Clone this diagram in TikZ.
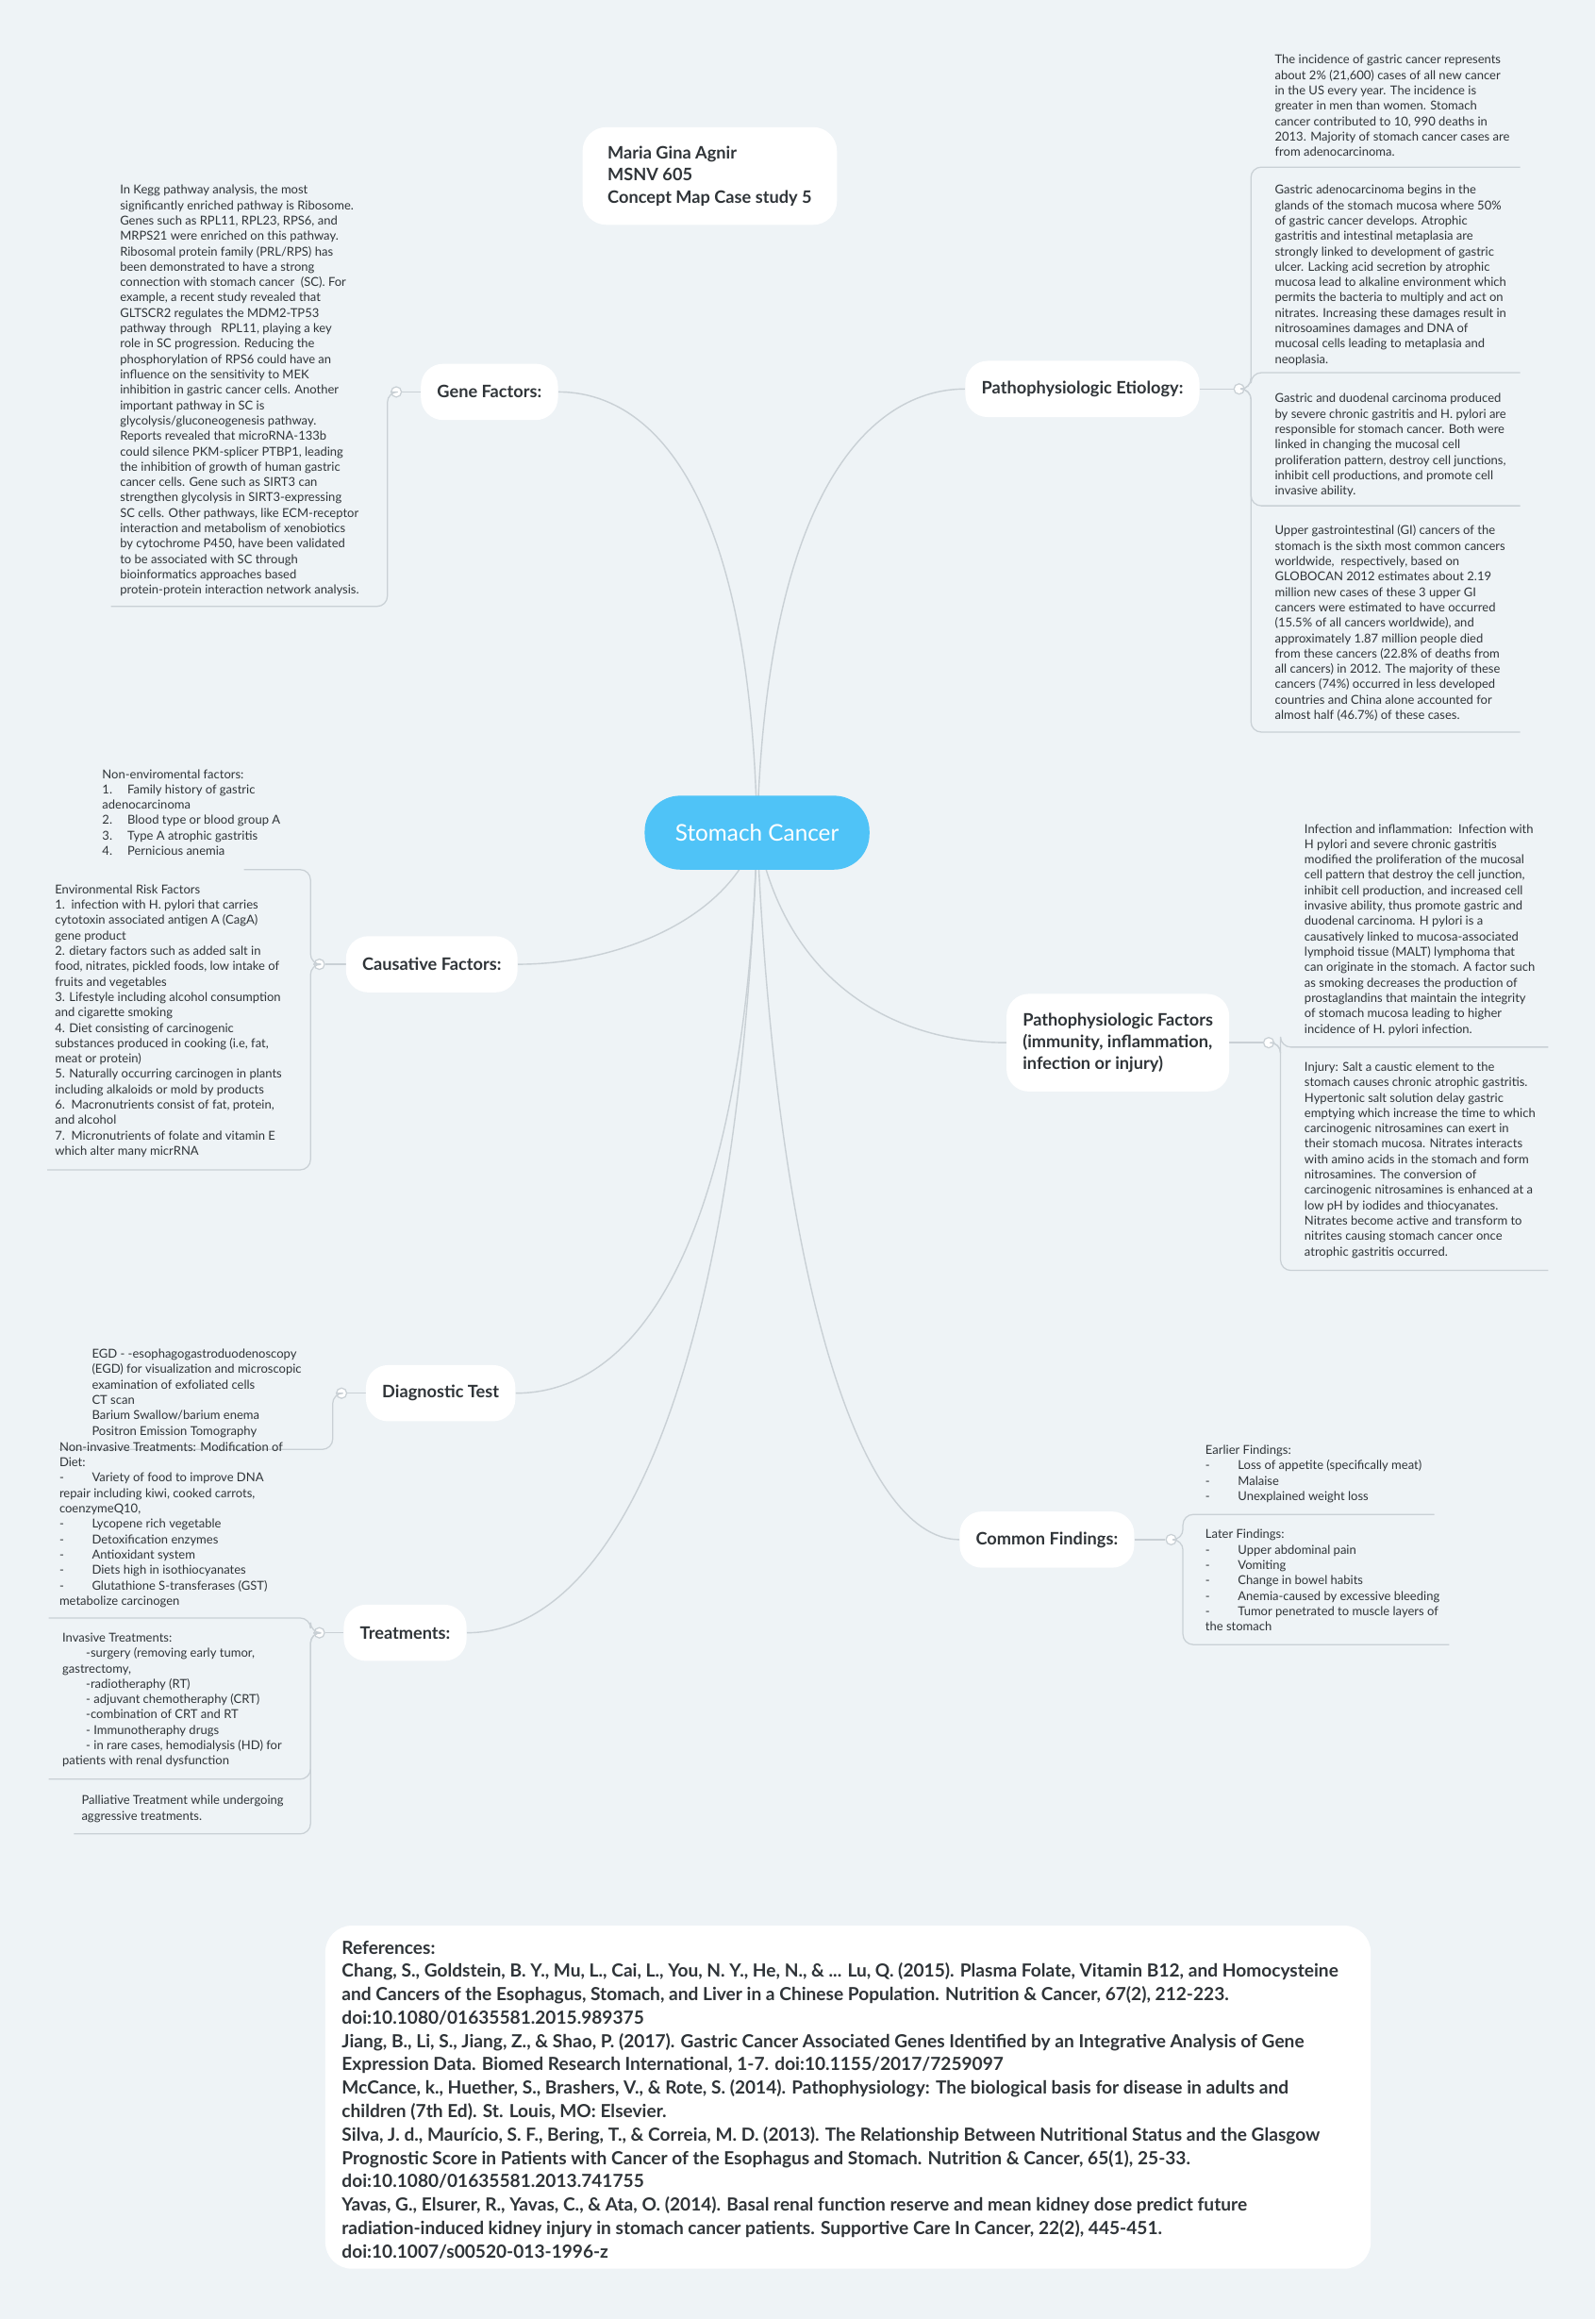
\documentclass[tikz,border=0pt]{standalone}
\usepackage{fontspec}
\setmainfont{Lato}
\usetikzlibrary{backgrounds}
\definecolor{bgc}{HTML}{EEF3F6}
\definecolor{linec}{HTML}{C9D0D5}
\definecolor{skyc}{HTML}{4FC3F7}
\definecolor{txtc}{HTML}{2F3438}
\newcommand\itm[1]{\makebox[22pt][l]{-}#1}
\tikzset{
  branch/.style={fill=white,rounded corners=15pt,inner xsep=11pt,minimum height=38pt,
    font=\fontsize{11.6}{14.5}\selectfont\bfseries,text=txtc,align=left},
  note/.style={anchor=north west,inner sep=0pt,align=left,text=txtc,
    font=\fontsize{8.3}{10.4}\selectfont},
  knot/.style={circle,draw=linec,fill=white,line width=0.8pt,inner sep=0pt,minimum size=7pt},
  twig/.style={draw=linec,line width=0.8pt,rounded corners=7pt},
  limb/.style={draw=linec,line width=0.9pt}
}
\begin{document}
\begin{tikzpicture}[x=1pt,y=-1pt]
\useasboundingbox (0,0) rectangle (1079,1568);

% centre and title
\node[fill=skyc,rounded corners=24pt,minimum width=152pt,minimum height=50pt,text=white,
  font=\fontsize{15.5}{18}\selectfont] (sc) at (512,563) {Stomach Cancer};
\node[fill=white,rounded corners=16pt,minimum width=172pt,minimum height=66pt,align=left,
  font=\fontsize{11.6}{15}\selectfont\bfseries,text=txtc] (title) at (480,119)
  {Maria Gina Agnir\\MSNV 605\\Concept Map Case study 5};

% branches
\node[branch] (gene) at (331,265) {Gene Factors:};
\node[branch] (eti) at (732,263) {Pathophysiologic Etiology:};
\node[branch] (cau) at (292,652) {Causative Factors:};
\node[branch,minimum height=66pt] (pf) at (756,705) {Pathophysiologic Factors\\(immunity, inflammation,\\infection or injury)};
\node[branch] (diag) at (298,942) {Diagnostic Test};
\node[branch] (com) at (708,1041) {Common Findings:};
\node[branch] (trt) at (274,1104) {Treatments:};

\node[knot] (cg) at (268,265) {};
\node[knot] (ce) at (838,263) {};
\node[knot] (cc) at (216,652) {};
\node[knot] (cp) at (858,705) {};
\node[knot] (cd) at (231,942) {};
\node[knot] (cm) at (792,1041) {};
\node[knot] (ct) at (216,1104) {};

\begin{scope}[on background layer]
\fill[bgc] (0,0) rectangle (1079,1568);
\path[limb] (sc.center) .. controls (508,330) and (440,265) .. (gene.east);
\path[limb] (sc.center) .. controls (518,330) and (590,263) .. (eti.west);
\path[limb] (sc.center) .. controls (495,620) and (420,652) .. (cau.east);
\path[limb] (sc.center) .. controls (530,660) and (600,705) .. (pf.west);
\path[limb] (sc.center) .. controls (505,820) and (440,942) .. (diag.east);
\path[limb] (sc.center) .. controls (525,860) and (580,1041) .. (com.west);
\path[limb] (sc.center) .. controls (500,920) and (420,1104) .. (trt.east);
\path[limb] (gene.west) -- (cg);
\path[limb] (eti.east) -- (ce);
\path[limb] (cau.west) -- (cc);
\path[limb] (pf.east) -- (cp);
\path[limb] (diag.west) -- (cd);
\path[limb] (com.east) -- (cm);
\path[limb] (trt.west) -- (ct);
\end{scope}

% twigs
\path[twig] (cg.west) -- (262,265) |- (75,410);
\foreach \y/\e in {113/1028,252/1028,342/1028,495/1028}
  \path[twig] (ce.east) -- (846,263) |- (\e,\y);
\foreach \y/\e in {588/165,791/32}
  \path[twig] (cc.west) -- (210,652) |- (\e,\y);
\foreach \y in {708,859}
  \path[twig] (cp.east) -- (866,705) |- (1047,\y);
\path[twig] (cd.west) -- (225,942) |- (40,980);
\foreach \y/\e in {1024/970,1112/980}
  \path[twig] (cm.east) -- (800,1041) |- (\e,\y);
\foreach \y/\e in {1094/33,1203/33,1240/50}
  \path[twig] (ct.west) -- (210,1104) |- (\e,\y);

% notes
\node[note] (ng) at (81,125) {In Kegg pathway analysis, the most\\significantly enriched pathway is Ribosome.\\Genes such as RPL11, RPL23, RPS6, and\\MRPS21 were enriched on this pathway.\\Ribosomal protein family (PRL/RPS) has\\been demonstrated to have a strong\\connection with stomach cancer\ \ (SC). For\\example, a recent study revealed that\\GLTSCR2 regulates the MDM2-TP53\\pathway through\ \ \ RPL11, playing a key\\role in SC progression. Reducing the\\phosphorylation of RPS6 could have an\\influence on the sensitivity to MEK\\inhibition in gastric cancer cells. Another\\important pathway in SC is\\glycolysis/gluconeogenesis pathway.\\Reports revealed that microRNA-133b\\could silence PKM-splicer PTBP1, leading\\the inhibition of growth of human gastric\\cancer cells. Gene such as SIRT3 can\\strengthen glycolysis in SIRT3-expressing\\SC cells. Other pathways, like ECM-receptor\\interaction and metabolism of xenobiotics\\by cytochrome P450, have been validated\\to be associated with SC through\\bioinformatics approaches based\\protein-protein interaction network analysis.};

\node[note] (ne1) at (862,37) {The incidence of gastric cancer represents\\about 2\% (21,600) cases of all new cancer\\in the US every year. The incidence is\\greater in men than women. Stomach\\cancer contributed to 10, 990 deaths in\\2013. Majority of stomach cancer cases are\\from adenocarcinoma.};
\node[note] (ne2) at (862,125) {Gastric adenocarcinoma begins in the\\glands of the stomach mucosa where 50\%\\of gastric cancer develops. Atrophic\\gastritis and intestinal metaplasia are\\strongly linked to development of gastric\\ulcer. Lacking acid secretion by atrophic\\mucosa lead to alkaline environment which\\permits the bacteria to multiply and act on\\nitrates. Increasing these damages result in\\nitrosoamines damages and DNA of\\mucosal cells leading to metaplasia and\\neoplasia.};
\node[note] (ne3) at (862,266) {Gastric and duodenal carcinoma produced\\by severe chronic gastritis and H. pylori are\\responsible for stomach cancer. Both were\\linked in changing the mucosal cell\\proliferation pattern, destroy cell junctions,\\inhibit cell productions, and promote cell\\invasive ability.};
\node[note] (ne4) at (862,355) {Upper gastrointestinal (GI) cancers of the\\stomach is the sixth most common cancers\\worldwide,\ \ respectively, based on\\GLOBOCAN 2012 estimates about 2.19\\million new cases of these 3 upper GI\\cancers were estimated to have occurred\\(15.5\% of all cancers worldwide), and\\approximately 1.87 million people died\\from these cancers (22.8\% of deaths from\\all cancers) in 2012. The majority of these\\cancers (74\%) occurred in less developed\\countries and China alone accounted for\\almost half (46.7\%) of these cases.};

\node[note] (nc1) at (69,520) {Non-enviromental factors:\\\makebox[17pt][l]{1.}Family history of gastric\\adenocarcinoma\\\makebox[17pt][l]{2.}Blood type or blood group A\\\makebox[17pt][l]{3.}Type A atrophic gastritis\\\makebox[17pt][l]{4.}Pernicious anemia};
\node[note] (nc2) at (37,598) {Environmental Risk Factors\\1.\ \ infection with H. pylori that carries\\cytotoxin associated antigen A (CagA)\\gene product\\2. dietary factors such as added salt in\\food, nitrates, pickled foods, low intake of\\fruits and vegetables\\3. Lifestyle including alcohol consumption\\and cigarette smoking\\4. Diet consisting of carcinogenic\\substances produced in cooking (i.e, fat,\\meat or protein)\\5. Naturally occurring carcinogen in plants\\including alkaloids or mold by products\\6.\ \ Macronutrients consist of fat, protein,\\and alcohol\\7.\ \ Micronutrients of folate and vitamin E\\which alter many micrRNA};

\node[note] (np1) at (882,557) {Infection and inflammation:\ \ Infection with\\H pylori and severe chronic gastritis\\modified the proliferation of the mucosal\\cell pattern that destroy the cell junction,\\inhibit cell production, and increased cell\\invasive ability, thus promote gastric and\\duodenal carcinoma. H pylori is a\\causatively linked to mucosa-associated\\lymphoid tissue (MALT) lymphoma that\\can originate in the stomach. A factor such\\as smoking decreases the production of\\prostaglandins that maintain the integrity\\of stomach mucosa leading to higher\\incidence of H. pylori infection.};
\node[note] (np2) at (882,718) {Injury: Salt a caustic element to the\\stomach causes chronic atrophic gastritis.\\Hypertonic salt solution delay gastric\\emptying which increase the time to which\\carcinogenic nitrosamines can exert in\\their stomach mucosa. Nitrates interacts\\with amino acids in the stomach and form\\nitrosamines. The conversion of\\carcinogenic nitrosamines is enhanced at a\\low pH by iodides and thiocyanates.\\Nitrates become active and transform to\\nitrites causing stomach cancer once\\atrophic gastritis occurred.};

\node[note] (nd) at (62,912) {EGD - -esophagogastroduodenoscopy\\(EGD) for visualization and microscopic\\examination of exfoliated cells\\CT scan\\Barium Swallow/barium enema\\Positron Emission Tomography};

\node[note] (nm1) at (815,977) {Earlier Findings:\\\itm{Loss of appetite (specifically meat)}\\\itm{Malaise}\\\itm{Unexplained weight loss}};
\node[note] (nm2) at (815,1034) {Later Findings:\\\itm{Upper abdominal pain}\\\itm{Vomiting}\\\itm{Change in bowel habits}\\\itm{Anemia-caused by excessive bleeding}\\\itm{Tumor penetrated to muscle layers of}\\the stomach};

\node[note] (nt1) at (40,975) {Non-invasive Treatments: Modification of\\Diet:\\\itm{Variety of food to improve DNA}\\repair including kiwi, cooked carrots,\\coenzymeQ10,\\\itm{Lycopene rich vegetable}\\\itm{Detoxification enzymes}\\\itm{Antioxidant system}\\\itm{Diets high in isothiocyanates}\\\itm{Glutathione S-transferases (GST)}\\metabolize carcinogen};
\node[note] (nt2) at (42,1104) {Invasive Treatments:\\\hspace*{16pt}-surgery (removing early tumor,\\gastrectomy,\\\hspace*{16pt}-radiotheraphy (RT)\\\hspace*{16pt}- adjuvant chemotheraphy (CRT)\\\hspace*{16pt}-combination of CRT and RT\\\hspace*{16pt}- Immunotheraphy drugs\\\hspace*{16pt}- in rare cases, hemodialysis (HD) for\\patients with renal dysfunction};
\node[note] (nt3) at (55,1214) {Palliative Treatment while undergoing\\aggressive treatments.};

% references
\fill[white,rounded corners=18pt] (220,1302) rectangle (927,1534);
\node[anchor=north west,inner sep=0pt,align=left,text=txtc,
  font=\fontsize{12.2}{15.8}\selectfont\bfseries] (refs) at (231,1312)
  {References:\\Chang, S., Goldstein, B. Y., Mu, L., Cai, L., You, N. Y., He, N., \& ... Lu, Q. (2015). Plasma Folate, Vitamin B12, and Homocysteine\\and Cancers of the Esophagus, Stomach, and Liver in a Chinese Population. Nutrition \& Cancer, 67(2), 212-223.\\doi:10.1080/01635581.2015.989375\\Jiang, B., Li, S., Jiang, Z., \& Shao, P. (2017). Gastric Cancer Associated Genes Identified by an Integrative Analysis of Gene\\Expression Data. Biomed Research International, 1-7. doi:10.1155/2017/7259097\\McCance, k., Huether, S., Brashers, V., \& Rote, S. (2014). Pathophysiology: The biological basis for disease in adults and\\children (7th Ed). St. Louis, MO: Elsevier.\\Silva, J. d., Maur\'icio, S. F., Bering, T., \& Correia, M. D. (2013). The Relationship Between Nutritional Status and the Glasgow\\Prognostic Score in Patients with Cancer of the Esophagus and Stomach. Nutrition \& Cancer, 65(1), 25-33.\\doi:10.1080/01635581.2013.741755\\Yavas, G., Elsurer, R., Yavas, C., \& Ata, O. (2014). Basal renal function reserve and mean kidney dose predict future\\radiation-induced kidney injury in stomach cancer patients. Supportive Care In Cancer, 22(2), 445-451.\\doi:10.1007/s00520-013-1996-z};
\end{tikzpicture}
\end{document}
